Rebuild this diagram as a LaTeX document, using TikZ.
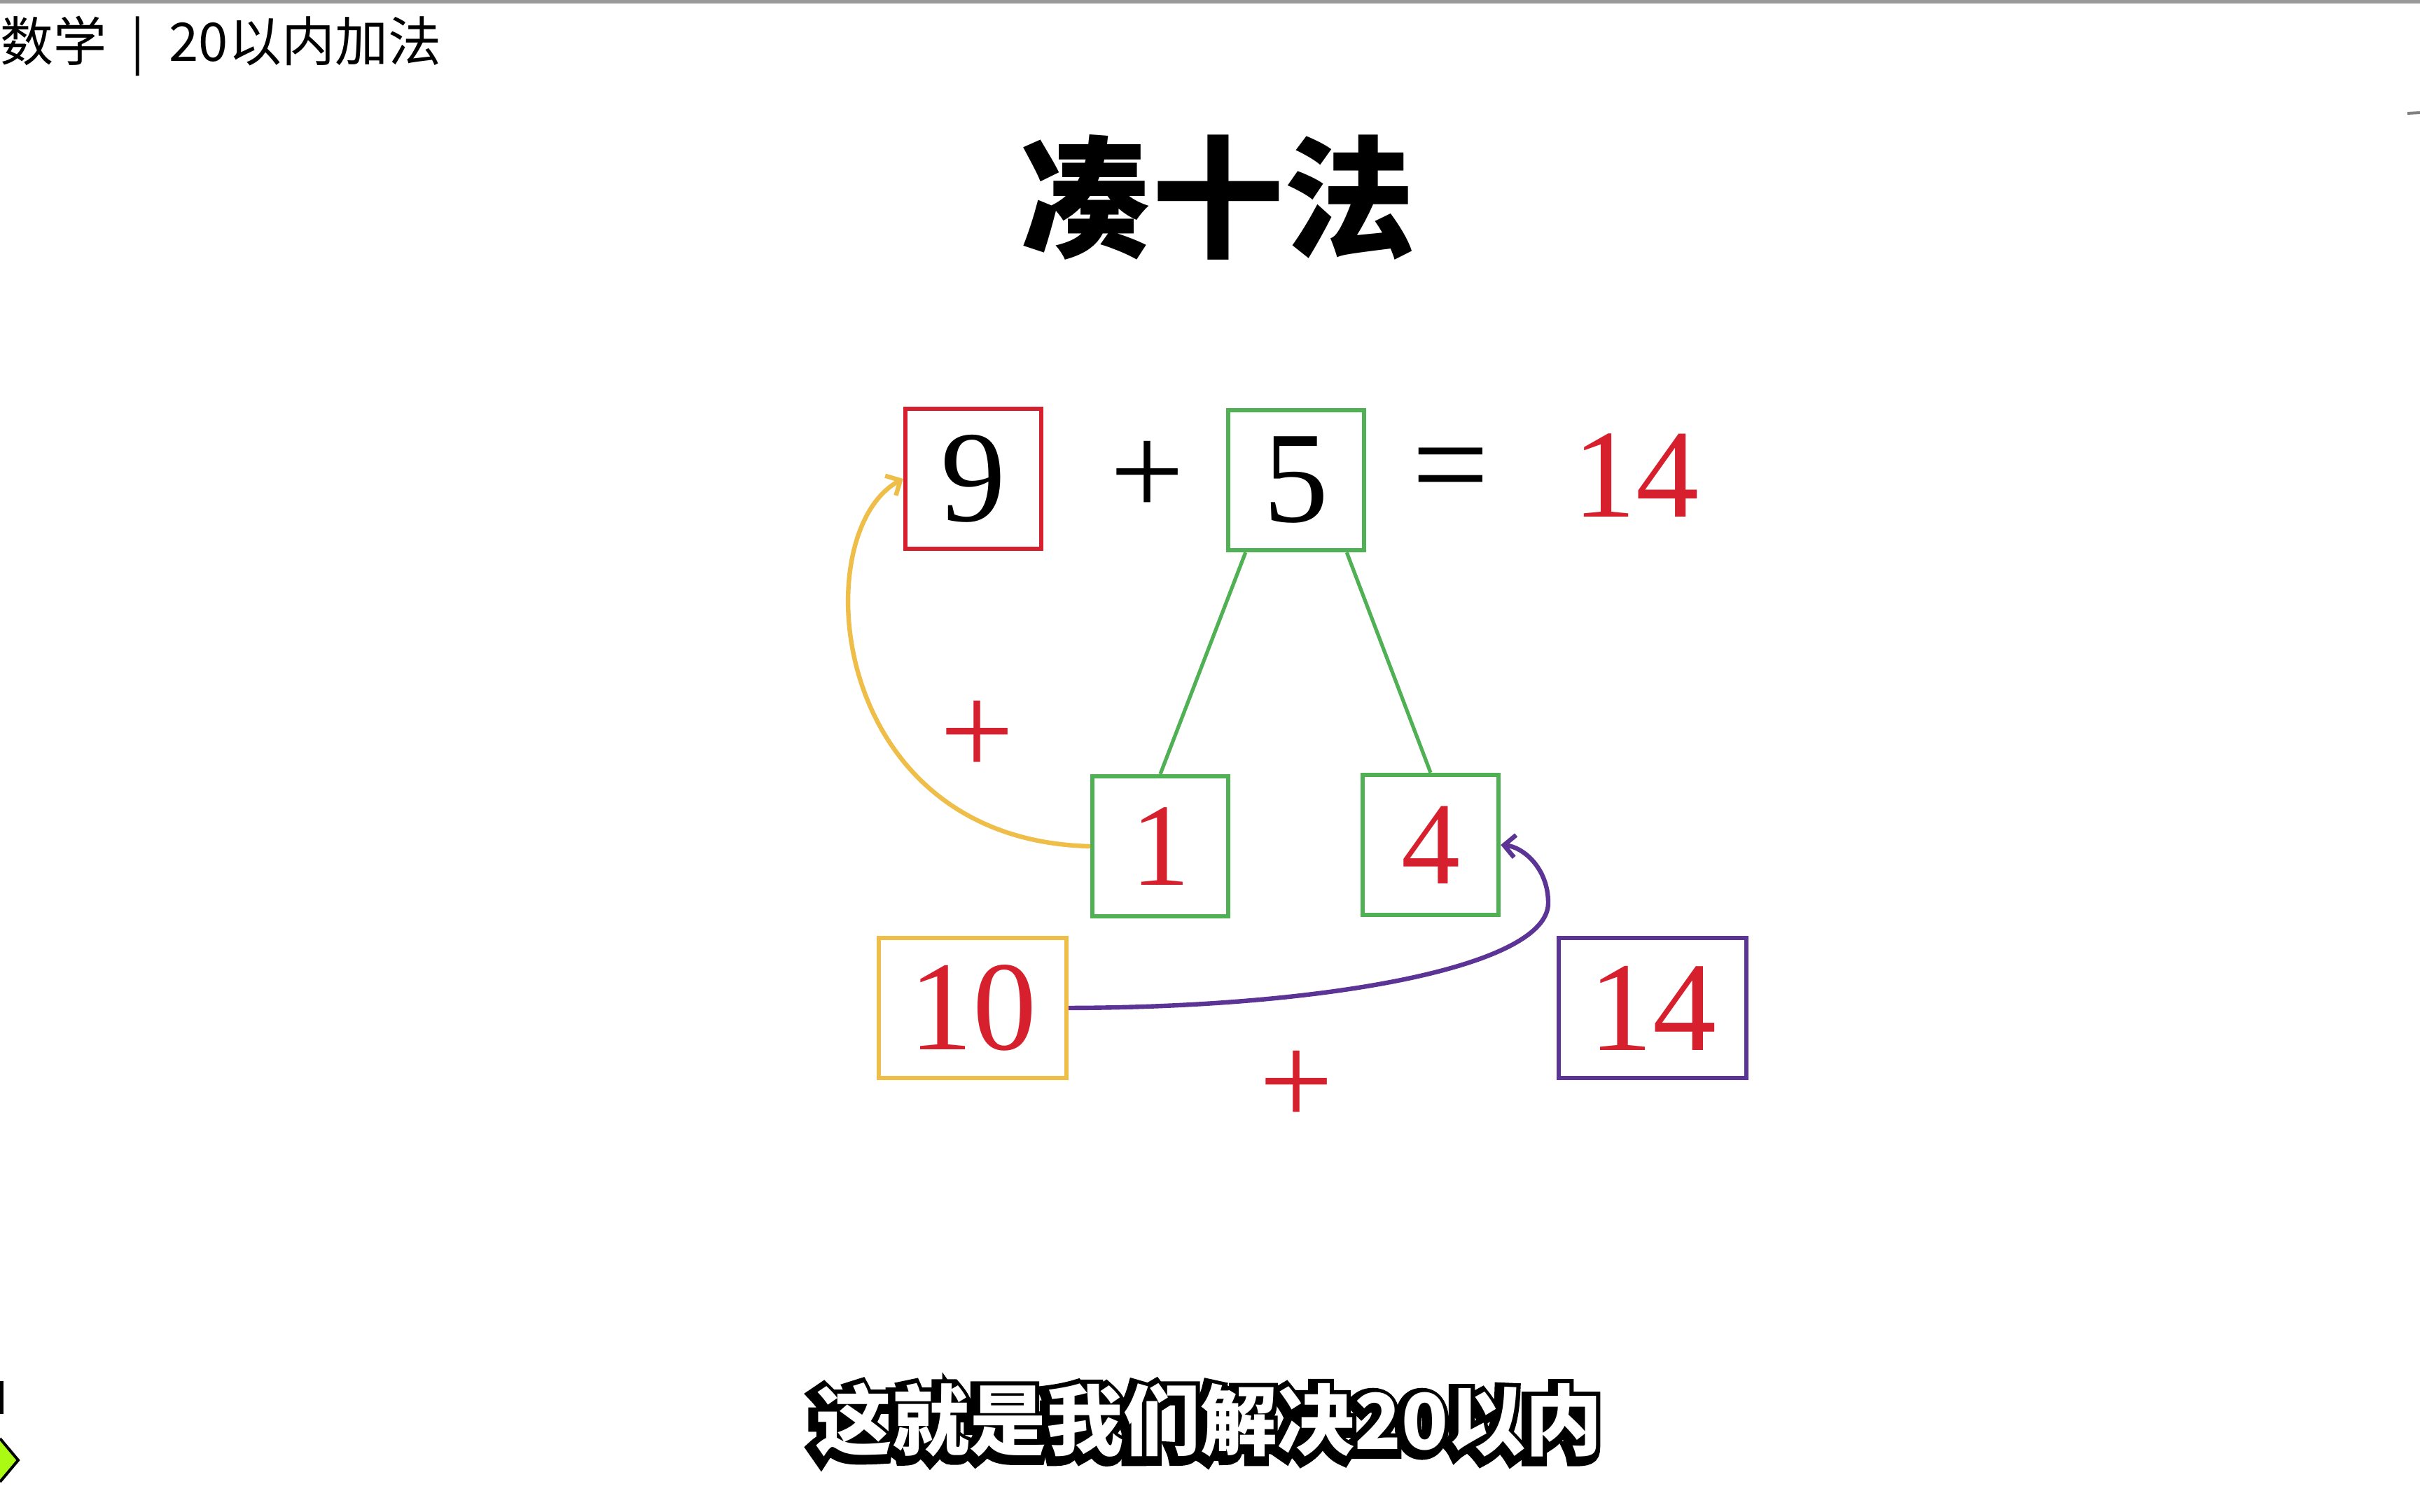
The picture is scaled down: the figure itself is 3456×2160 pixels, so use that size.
\documentclass[tikz,border=0pt]{standalone}
\usepackage{fontspec}
\newfontfamily\cjk{Noto Sans CJK SC}
\newfontfamily\cjkrim{Noto Sans CJK SC}[BoldFeatures={FakeBold=18}]
\newfontfamily\digits{Liberation Serif}
\usetikzlibrary{arrows.meta}
\definecolor{numred}{RGB}{214,32,46}
\definecolor{boxgreen}{RGB}{80,176,84}
\definecolor{boxyellow}{RGB}{238,190,72}
\definecolor{boxpurple}{RGB}{92,52,150}
\definecolor{cursorlime}{RGB}{170,250,20}
\begin{document}
\begin{tikzpicture}[x=0.25pt,y=0.25pt,
  numbox/.style={draw,line width=1.6pt,minimum width=48.5pt,minimum height=50pt,inner sep=0pt},
  widebox/.style={numbox,minimum width=67pt},
  bignum/.style={font=\digits\fontsize{46.5pt}{46.5pt}\selectfont},
  midnum/.style={font=\digits\fontsize{45.5pt}{45.5pt}\selectfont},
  smallnum/.style={font=\digits\fontsize{42pt}{42pt}\selectfont},
  sign/.style={font=\digits\fontsize{47pt}{47pt}\selectfont,inner sep=0pt},
  link/.style={line width=1.6pt,-{Straight Barb[length=4pt,width=8pt]}}]
\useasboundingbox (0,0) rectangle (3456,2160);
\fill[white] (0,0) rectangle (3456,2160);
\draw[gray!80,line width=1.5pt] (0,2158) -- (3456,2158);
\draw[gray,line width=1pt] (3438,1998) -- (3456,1999);
\fill[black] (0,140) rectangle (5,187);
\draw[black,fill=cursorlime,line width=1pt] (0,105) -- (26,74) -- (0,43);
% header and title
\node[anchor=west,inner sep=0pt,font=\cjk\fontsize{19pt}{19pt}\selectfont] (head) at (0,2094)
  {数学\hspace{0.45em}|\hspace{0.45em}20以内加法};
\node[font=\cjk\bfseries\fontsize{47pt}{47pt}\selectfont] (title) at (1739,1878) {凑十法};
% first row
\node[numbox,draw=numred,bignum] (n9) at (1390,1476) {9};
\node[sign] (plusA) at (1638,1477) {+};
\node[numbox,draw=boxgreen,bignum] (n5) at (1851,1474) {5};
\node[sign,font=\digits\fontsize{49pt}{49pt}\selectfont] (eq) at (2072,1475) {=};
\node[text=numred,font=\digits\fontsize{45pt}{45pt}\selectfont] (sum) at (2336,1481) {14};
% split of 5
\node[numbox,draw=boxgreen,text=numred,smallnum] (n1) at (1657,951) {1};
\node[numbox,draw=boxgreen,text=numred,smallnum] (n4) at (2043,953) {4};
\draw[boxgreen,line width=1.3pt] (n5.-125) -- (n1.north);
\draw[boxgreen,line width=1.3pt] (n5.-55) -- (n4.north);
\node[sign,text=numred] (plusB) at (1395,1106) {+};
\draw[link,boxyellow] (n1.west) .. controls (1180,960) and (1150,1400) .. (n9.west);
% second row
\node[widebox,draw=boxyellow,text=numred,midnum] (n10) at (1389,720) {10};
\node[widebox,draw=boxpurple,text=numred,midnum] (n14) at (2360,720) {14};
\coordinate (bend) at (2211,870);
\draw[link,boxpurple] (n10.east) .. controls (1900,721) and (2211,780) .. (bend)
  .. controls (2211,920) and (2175,950) .. (n4.east);
\node[sign,text=numred] (plusC) at (1851,606) {+};
% subtitle, white on a black rim
\node[font=\cjkrim\bfseries\fontsize{27.5pt}{27.5pt}\selectfont] (subrim) at (1722,128) {这就是我们解决20以内};
\node[text=white,font=\cjk\bfseries\fontsize{27.5pt}{27.5pt}\selectfont] (sub) at (1726,132) {这就是我们解决20以内};
\end{tikzpicture}
\end{document}
